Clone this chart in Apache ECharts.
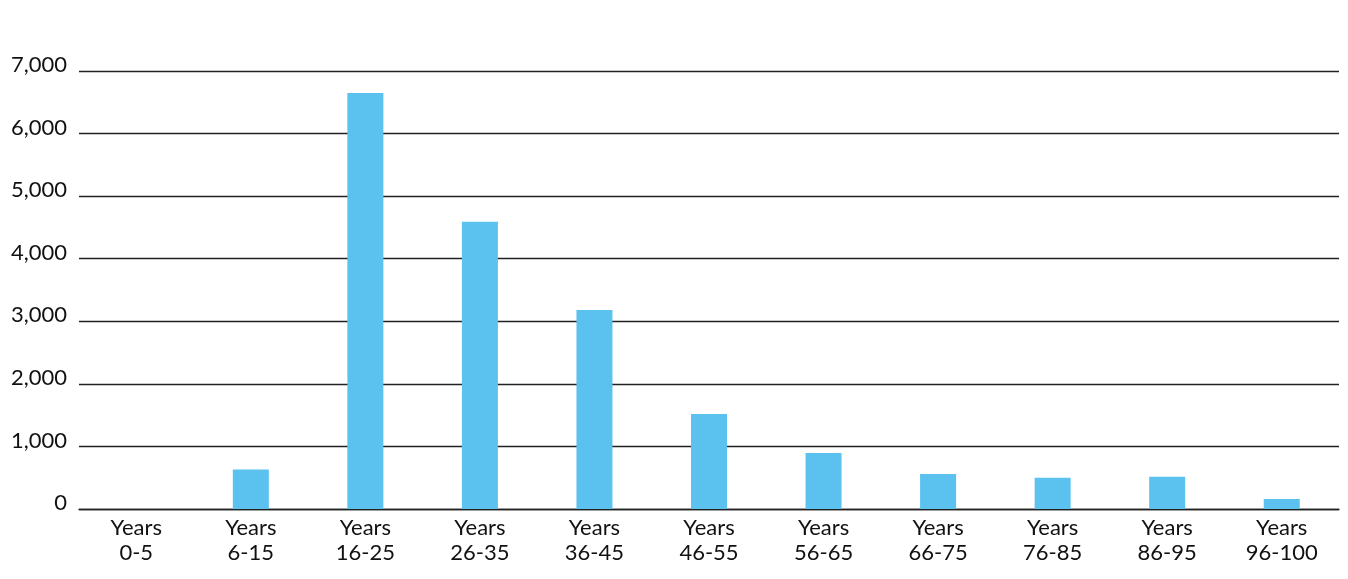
<!DOCTYPE html>
<html>
<head>
<meta charset="utf-8">
<script src="https://cdn.jsdelivr.net/npm/echarts@6/dist/echarts.min.js"></script>
<style>html,body{margin:0;padding:0;background:#fff;}#c{width:1348px;height:579px;}</style>
</head>
<body>
<div id="c"></div>
<script>
const categories = ["Years\n0-5","Years\n6-15","Years\n16-25","Years\n26-35","Years\n36-45","Years\n46-55","Years\n56-65","Years\n66-75","Years\n76-85","Years\n86-95","Years\n96-100"];
const values = [0, 630, 6650, 4590, 3180, 1520, 895, 560, 500, 515, 160];

const chart = echarts.init(document.getElementById('c'));
chart.setOption({
  animation: false,
  backgroundColor: '#ffffff',
  textStyle: { fontFamily: 'Lato' },
  grid: { left: 79, right: 9, top: 71, bottom: 70, containLabel: false },
  xAxis: {
    type: 'category',
    data: categories,
    axisLine: { show: true, lineStyle: { color: '#222', width: 1.3 } },
    axisTick: { show: false },
    axisLabel: { color: '#111', fontSize: 22, lineHeight: 25, margin: 6, fontFamily: 'Lato' }
  },
  yAxis: {
    type: 'value',
    min: 0, max: 7000, interval: 1000,
    axisLine: { show: false },
    axisTick: { show: false },
    splitLine: { lineStyle: { color: '#222', width: 1.3 } },
    axisLabel: {
      color: '#111', fontSize: 22, margin: 12, fontFamily: 'Lato',
      verticalAlign: 'bottom',
      lineHeight: 12,
      formatter: v => v.toLocaleString('en-US')
    }
  },
  series: [{
    type: 'bar',
    data: values,
    barWidth: 36,
    itemStyle: { color: '#5BC1EE' }
  }]
});
</script>
</body>
</html>
